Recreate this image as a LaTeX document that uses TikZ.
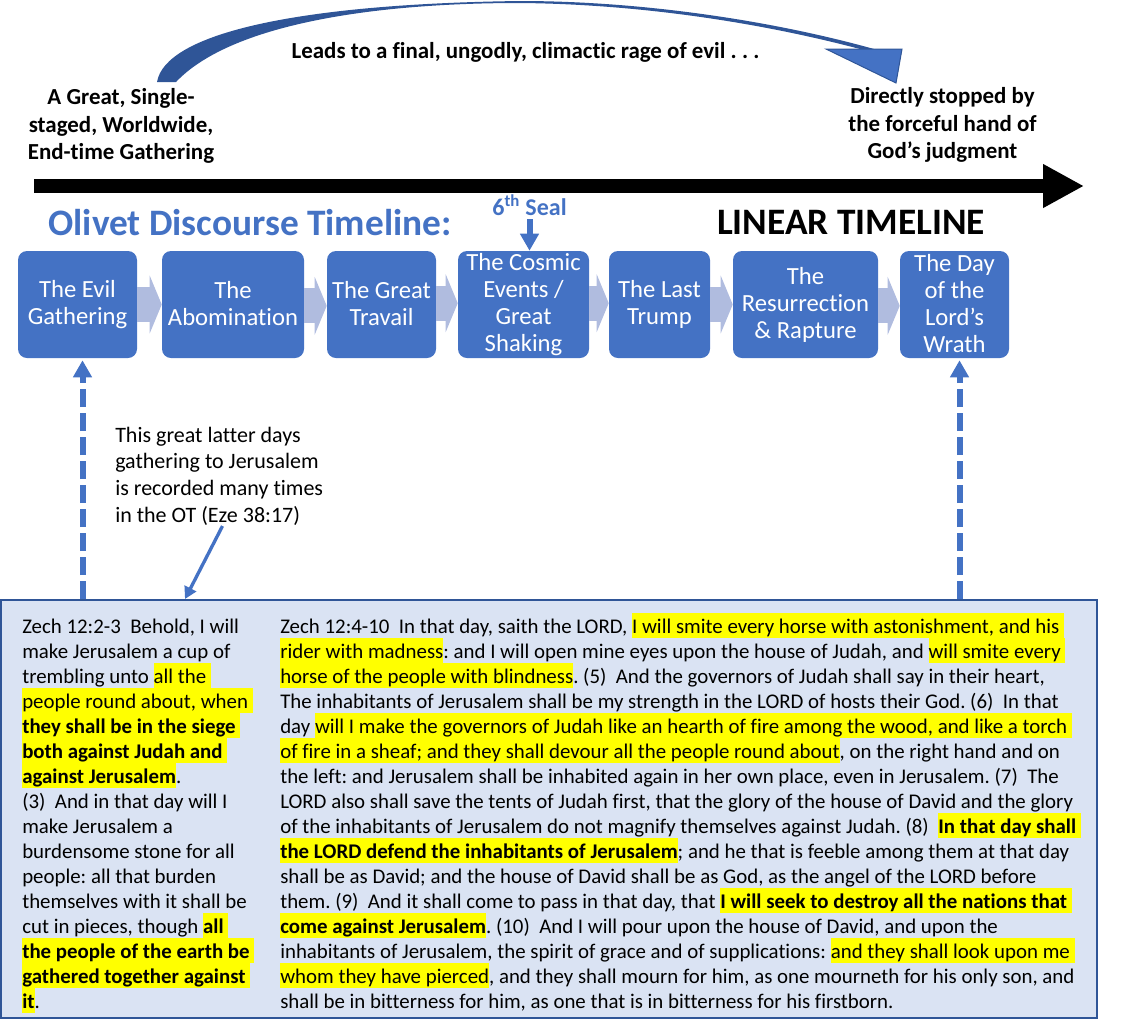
\documentclass[tikz,border=0pt]{standalone}
\usepackage{fontspec}
\setmainfont[Ligatures=NoCommon]{Carlito}
\usetikzlibrary{arrows.meta}
\definecolor{stageblue}{HTML}{4472C4}
\definecolor{edgeblue}{HTML}{2F5597}
\definecolor{flowblue}{HTML}{B0BCDF}
\definecolor{panelblue}{HTML}{DAE3F3}
\definecolor{marker}{rgb}{1,1,0}
\frenchspacing
\newcommand{\marked}[1]{{\setlength{\fboxsep}{0pt}\colorbox{marker}{\vrule width 0pt height 15.4pt depth 3.4pt #1}}}
\newcommand{\boxstrut}{\vrule width 0pt height 17.25pt depth 2.25pt}
\tikzset{
	stagebox/.style={fill=stageblue,text=white,rounded corners=6.75pt,minimum height=80.25pt,inner sep=0pt,align=center,font=\fontsize{18.5}{20.25}\selectfont,execute at begin node=\boxstrut,execute at end node=\boxstrut},
	flowarrow/.style={draw=flowblue,line width=26.25pt,-{Triangle[length=9pt,width=43pt,fill=flowblue]}},
	blackhead/.style={font=\fontsize{17.2}{20.5}\selectfont\bfseries,align=center,inner sep=0pt},
	verse/.style={anchor=base west,inner sep=0pt,font=\fontsize{15.65}{18.75}\selectfont},
	dashup/.style={draw=stageblue,line width=4.5pt,dash pattern=on 13.5pt off 4.5pt,-{Triangle[length=12.75pt,width=13.5pt,fill=stageblue]},shorten >=1.5pt},
}
\begin{document}
\begin{tikzpicture}[x=0.75pt,y=-0.75pt]
	\useasboundingbox (0,0) rectangle (1127,1026);
	% curved arrow on top
	\fill[edgeblue] (157,82) .. controls (165,35) and (290,4) .. (520,1) .. controls (640,1) and (770,20) .. (874,49) -- (860,49) .. controls (750,20) and (630,4) .. (520,3) .. controls (370,3) and (230,25) .. (176,82) -- cycle;
	\draw[fill=stageblue,draw=edgeblue,line width=0.75pt] (826,49) -- (902,49) -- (896,83) -- cycle;
	\node[blackhead,anchor=base] (leads) at (525.5,58.5) {Leads to a final, ungodly, climactic rage of evil . . .};
	\node[blackhead] (gathering) at (121,126) {A Great, Single-\\staged, Worldwide,\\End-time Gathering};
	\node[blackhead] (stopped) at (942.5,125) {Directly stopped by\\the forceful hand of\\God’s judgment};
	% time axis
	\coordinate (axisstart) at (34,186);
	\coordinate (axisend) at (1084,186);
	\draw[line width=10.5pt,-{Triangle[length=30.75pt,width=30.75pt]}] (axisstart) -- (axisend);
	\node[anchor=base,inner sep=0pt,text=stageblue,font=\fontsize{28}{33}\selectfont\bfseries] (olivet) at (250,235) {Olivet Discourse Timeline:};
	\node[anchor=base,inner sep=0pt,font=\fontsize{28}{33}\selectfont\bfseries] (linear) at (851,234) {LINEAR TIMELINE};
	\node[anchor=base,inner ysep=0pt,inner xsep=0pt,text depth=3pt,text=stageblue,font=\fontsize{18}{22}\selectfont\bfseries] (seal) at (529.5,215) {6\textsuperscript{th} Seal};
	% stages
	\node[stagebox,minimum width=89.25pt] (evil) at (77.5,304.5) {The Evil\\Gathering};
	\node[stagebox,minimum width=106.5pt] (abom) at (233,304.5) {The\\Abomination};
	\node[stagebox,minimum width=81.75pt] (travail) at (381.5,304.5) {The Great\\Travail};
	\node[stagebox,minimum width=98.25pt] (cosmic) at (523.5,304.5) {The Cosmic\\Events /\\Great\\Shaking};
	\node[stagebox,minimum width=75.75pt] (trump) at (659.5,304.5) {The Last\\Trump};
	\node[stagebox,minimum width=108.75pt] (rapture) at (805.5,304.5) {The\\Resurrection\\\& Rapture};
	\node[stagebox,minimum width=81.75pt] (wrath) at (954.5,304.5) {The Day\\of the\\Lord’s\\Wrath};
	\draw[flowarrow] (evil.east) -- (abom.west);
	\draw[flowarrow] ([yshift=-1pt]abom.east) -- ([yshift=-1pt]travail.west);
	\draw[flowarrow] ([yshift=1pt]travail.east) -- ([yshift=1pt]cosmic.west);
	\draw[flowarrow] ([yshift=1pt]cosmic.east) -- ([yshift=1pt]trump.west);
	\draw[flowarrow] (trump.east) -- (rapture.west);
	\draw[flowarrow] ([yshift=-1pt]rapture.east) -- ([yshift=-1pt]wrath.west);
	\draw[stageblue,line width=4.5pt,-{Triangle[length=12.75pt,width=13.5pt]}] (seal.south) -- (seal.south |- cosmic.north);
	% verses
	\node[draw=edgeblue,fill=panelblue,line width=1.5pt,minimum width=822pt,minimum height=313.5pt,inner sep=0pt] (panel) at (549,809) {};
	\coordinate (gatherfoot) at (82.5,599);
	\coordinate (wrathfoot) at (959.5,599);
	\draw[dashup] (gatherfoot) -- (gatherfoot |- evil.south);
	\draw[dashup] (wrathfoot) -- (wrathfoot |- wrath.south);
	\node[anchor=base west,inner sep=0pt,align=left,font=\fontsize{16.5}{20}\selectfont] (note) at (115,522) {This great latter days\\gathering to Jerusalem\\is recorded many times\\in the OT (Eze 38:17)};
	\coordinate (notetail) at (222.5,526);
	\coordinate (notetip) at (185,599);
	\draw[stageblue,line width=2.5pt,-{Triangle[length=9pt,width=9.5pt]}] (notetail) -- (notetip);
	% left column
	\node[verse] (l1) at (22,633.5) {Zech 12:2-3\ \ Behold, I will};
	\node[verse] (l2) at (22,658.5) {make Jerusalem a cup of};
	\node[verse] (l3) at (22,683.5) {trembling unto \marked{all the\ }};
	\node[verse] (l4) at (22,708.5) {\marked{people round about, when\ }};
	\node[verse] (l5) at (22,733.5) {\marked{\textbf{they shall be in the siege\ }}};
	\node[verse] (l6) at (22,758.5) {\marked{\textbf{both against Judah and\ }}};
	\node[verse] (l7) at (22,783.5) {\marked{\textbf{against Jerusalem}}.};
	\node[verse] (l8) at (22,808.5) {(3)\ \ And in that day will I};
	\node[verse] (l9) at (22,833.5) {make Jerusalem a};
	\node[verse] (l10) at (22,858.5) {burdensome stone for all};
	\node[verse] (l11) at (22,883.5) {people: all that burden};
	\node[verse] (l12) at (22,908.5) {themselves with it shall be};
	\node[verse] (l13) at (22,933.5) {cut in pieces, though \marked{\textbf{all\ }}};
	\node[verse] (l14) at (22,958.5) {\marked{\textbf{the people of the earth be\ }}};
	\node[verse] (l15) at (22,983.5) {\marked{\textbf{gathered together against\ }}};
	\node[verse] (l16) at (22,1008.5) {\marked{\textbf{it}}.};
	% right column
	\node[verse] (r1) at (280,633.5) {Zech 12:4-10\ \ In that day, saith the LORD, \marked{I will smite every horse with astonishment, and his\ }};
	\node[verse] (r2) at (280,658.5) {\marked{rider with madness}: and I will open mine eyes upon the house of Judah, and \marked{will smite every\ }};
	\node[verse] (r3) at (280,683.5) {\marked{horse of the people with blindness}. (5)\ \ And the governors of Judah shall say in their heart,};
	\node[verse] (r4) at (280,708.5) {The inhabitants of Jerusalem shall be my strength in the LORD of hosts their God. (6)\ \ In that};
	\node[verse] (r5) at (280,733.5) {day \marked{will I make the governors of Judah like an hearth of fire among the wood, and like a torch\ }};
	\node[verse] (r6) at (280,758.5) {\marked{of fire in a sheaf; and they shall devour all the people round about}, on the right hand and on};
	\node[verse] (r7) at (280,783.5) {the left: and Jerusalem shall be inhabited again in her own place, even in Jerusalem. (7)\ \ The};
	\node[verse] (r8) at (280,808.5) {LORD also shall save the tents of Judah first, that the glory of the house of David and the glory};
	\node[verse] (r9) at (280,833.5) {of the inhabitants of Jerusalem do not magnify themselves against Judah. (8)\ \ \marked{\textbf{In that day shall\ }}};
	\node[verse] (r10) at (280,858.5) {\marked{\textbf{the LORD defend the inhabitants of Jerusalem}}; and he that is feeble among them at that day};
	\node[verse] (r11) at (280,883.5) {shall be as David; and the house of David shall be as God, as the angel of the LORD before};
	\node[verse] (r12) at (280,908.5) {them. (9)\ \ And it shall come to pass in that day, that \marked{\textbf{I will seek to destroy all the nations that\ }}};
	\node[verse] (r13) at (280,933.5) {\marked{\textbf{come against Jerusalem}}. (10)\ \ And I will pour upon the house of David, and upon the};
	\node[verse] (r14) at (280,958.5) {inhabitants of Jerusalem, the spirit of grace and of supplications: \marked{and they shall look upon me\ }};
	\node[verse] (r15) at (280,983.5) {\marked{whom they have pierced}, and they shall mourn for him, as one mourneth for his only son, and};
	\node[verse] (r16) at (280,1008.5) {shall be in bitterness for him, as one that is in bitterness for his firstborn.};
\end{tikzpicture}
\end{document}
